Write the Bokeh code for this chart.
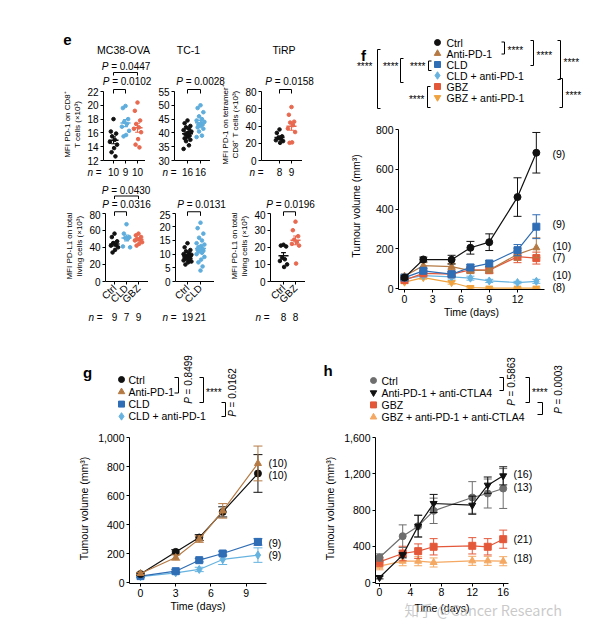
import math
import numpy as np
from bokeh.plotting import figure
from bokeh.layouts import row, column
from bokeh.models import Range1d, Spacer, FixedTicker, NumeralTickFormatter
from bokeh.embed import file_html
from bokeh.resources import INLINE
from bokeh.core.properties import value

FONT = "Liberation Sans"

# ---------------- data: panel e (MFI) ----------------
e_pd1_mc38_ctrl = [18.0, 16.2, 15.9, 15.5, 15.0, 14.7, 14.3, 13.8, 13.2, 12.6]
e_pd1_mc38_cld = [19.9, 19.6, 18.0, 17.6, 17.3, 16.9, 16.3, 15.7, 15.5]
e_pd1_mc38_gbz = [20.4, 19.2, 17.8, 17.3, 16.8, 16.6, 16.1, 15.1, 14.3, 13.9]
e_pd1_tc1_ctrl = [44.5, 43.5, 42.5, 42.0, 41.5, 41.0, 40.5, 40.0, 39.5, 39.0, 38.5, 38.0, 37.5, 37.0, 35.5, 34.2]
e_pd1_tc1_cld = [50.0, 49.0, 47.5, 46.0, 45.0, 44.5, 44.0, 43.5, 43.0, 43.0, 42.5, 42.0, 41.5, 40.5, 39.0, 38.5]
e_pd1_tirp_ctrl = [36.0, 32.0, 28.0, 26.0, 25.0, 23.5, 22.5, 20.5]
e_pd1_tirp_gbz = [62.0, 53.0, 45.0, 44.0, 41.0, 37.0, 33.0, 21.0, 20.5]
e_pdl1_mc38_ctrl = [56, 52, 47, 45, 43, 42, 40, 37, 34]
e_pdl1_mc38_cld = [67, 56, 52, 51, 50, 41, 40]
e_pdl1_mc38_gbz = [56, 54, 52, 50, 49, 48, 46, 44, 42]
e_pdl1_tc1_ctrl = [14.0, 12.5, 11.5, 11.0, 10.5, 10.0, 9.8, 9.5, 9.3, 9.0, 8.8, 8.6, 8.4, 8.2, 8.0, 7.7, 7.3, 7.0, 6.2]
e_pdl1_tc1_cld = [21.5, 19.5, 17.5, 16.0, 15.0, 14.0, 13.5, 13.0, 12.5, 12.0, 11.8, 11.5, 11.2, 11.0, 10.5, 10.0, 9.0, 8.0, 7.0, 5.5, 4.0]
e_pdl1_tirp_ctrl = [21.5, 21.0, 20.5, 14.0, 13.0, 12.0, 10.0, 8.5]
e_pdl1_tirp_gbz = [35.0, 30.0, 26.5, 24.5, 23.0, 22.0, 21.0, 10.5]
e_titles = ["MC38-OVA", "TC-1", "TiRP"]
e_p_top = ["0.0447", "0.0102", "0.0028", "0.0158"]
e_p_bot = ["0.0430", "0.0316", "0.0131", "0.0196"]

# ---------------- data: panel f ----------------
f_days = [0, 2, 5, 7, 9, 12, 14]
f_ctrl = [55, 146, 145, 205, 233, 460, 683]
f_ctrl_err = [8, 12, 22, 32, 42, 97, 102]
f_anti = [62, 115, 110, 90, 93, 172, 205]
f_anti_err = [10, 15, 15, 15, 15, 30, 50]
f_cld = [55, 89, 72, 106, 126, 193, 311]
f_cld_err = [8, 12, 12, 15, 15, 28, 60]
f_cldanti = [48, 65, 58, 52, 38, 30, 36]
f_cldanti_err = [8, 8, 10, 10, 8, 6, 10]
f_gbz = [42, 76, 72, 94, 92, 160, 153]
f_gbz_err = [8, 10, 10, 12, 15, 30, 30]
f_gbzanti = [32, 55, 30, 5, 2, 2, 2]
f_gbzanti_err = [6, 8, 8, 3, 1, 1, 1]
f_names = ["Ctrl", "Anti-PD-1", "CLD", "CLD + anti-PD-1", "GBZ", "GBZ + anti-PD-1"]
f_n_text = ["(9)", "(9)", "(10)", "(7)", "(10)", "(8)"]

# ---------------- data: panel g ----------------
g_days = [0, 3, 5, 7, 10]
g_ctrl = [58, 211, 310, 487, 752]
g_ctrl_err = [8, 15, 20, 35, 130]
g_anti = [62, 172, 299, 494, 821]
g_anti_err = [8, 18, 22, 50, 120]
g_cld = [44, 78, 154, 200, 280]
g_cld_err = [6, 10, 12, 15, 22]
g_cldanti = [40, 67, 90, 159, 189]
g_cldanti_err = [6, 8, 15, 35, 50]
g_names = ["Ctrl", "Anti-PD-1", "CLD", "CLD + anti-PD-1"]
g_n_text = ["(10)", "(10)", "(9)", "(9)"]

# ---------------- data: panel h ----------------
h_days = [0, 3, 5, 7, 12, 14, 16]
h_ctrl = [276, 511, 622, 791, 938, 982, 1037]
h_ctrl_err = [40, 125, 120, 140, 175, 160, 220]
h_apc = [55, 302, 622, 872, 853, 1074, 1177]
h_apc_err = [15, 30, 120, 100, 100, 90, 100]
h_gbz = [228, 320, 346, 394, 405, 394, 478]
h_gbz_err = [50, 80, 80, 90, 90, 90, 100]
h_gbzapc = [180, 235, 235, 221, 239, 239, 235]
h_gbzapc_err = [40, 50, 50, 50, 50, 50, 50]
h_names = ["Ctrl", "Anti-PD-1 + anti-CTLA4", "GBZ", "GBZ + anti-PD-1 + anti-CTLA4"]
h_n_text = ["(16)", "(13)", "(21)", "(18)"]
watermark = "\u77e5\u4e4e @Cancer Research"

BLACK = "#111111"
E_BLUE = "#5EADDC"
E_RED = "#E8694F"
C_ANTI = "#B57A44"
C_CLD = "#2F6DB5"
C_CLDA = "#66B3E0"
C_GBZ = "#E4583A"
C_GBZA = "#F0A23E"
C_GREY = "#6E6E6E"
C_GBZAPC = "#F4A862"

CW = {c: 0.556 for c in "0123456789"}
CW.update({'.': 0.278, ' ': 0.278, '=': 0.584, 'P': 0.667, '*': 0.389})


def tw(s, size):
    return sum(CW.get(c, 0.556) for c in s) * size


def canvas(x0, y0, x1, y1):
    p = figure(width=x1 - x0, height=y1 - y0, x_range=Range1d(x0, x1), y_range=Range1d(y1, y0),
               min_border_left=0, min_border_right=0, min_border_top=0, min_border_bottom=0,
               toolbar_location=None, output_backend="svg", x_axis_type=None, y_axis_type=None)
    p.outline_line_color = None
    return p


def txt(p, x, y, s, size=10.5, align="center", baseline="middle", style="normal", angle=0.0,
        color="black", font=FONT, alpha=1.0):
    p.text(x=[x], y=[y], text=[s], text_font=value(font), text_font_size=f"{size}px",
           text_align=align, text_baseline=baseline, text_font_style=style, angle=angle,
           text_color=color, text_alpha=alpha)


def ptext(p, xc, y, num, size=10):
    rest = "= " + num
    wP = 0.667 * size + 0.278 * size
    L = wP + tw(rest, size)
    x0 = xc - L / 2
    txt(p, x0, y, "P", size, align="left", style="italic")
    txt(p, x0 + wP, y, rest, size, align="left")


def ptext_v(p, x, yc, num, size=10):
    rest = "= " + num
    wP = 0.667 * size + 0.278 * size
    L = wP + tw(rest, size)
    yb = yc + L / 2
    txt(p, x, yb, "P", size, align="left", style="italic", angle=math.pi / 2)
    txt(p, x, yb - wP, rest, size, align="left", angle=math.pi / 2)


def ntext(p, xr, y, size=10):
    txt(p, xr, y, "=", size, align="right")
    txt(p, xr - 8.5, y, "n", size, align="right", style="italic")


def pline(p, pts, w=1.0):
    p.line([a for a, b in pts], [b for a, b in pts], line_color="black", line_width=w)


def br_right(p, x, y0, y1, arm=3):
    pline(p, [(x - arm, y0), (x, y0), (x, y1), (x - arm, y1)])


def br_left(p, x, y0, y1, arm=3):
    pline(p, [(x + arm, y0), (x, y0), (x, y1), (x + arm, y1)])


def br_top(p, x0, x1, y, leg=4):
    pline(p, [(x0, y + leg), (x0, y), (x1, y), (x1, y + leg)])


def stars(p, x, y, align="left"):
    txt(p, x, y + 2, "****", 10, align=align)


def make_plot(fig_box, frame_box, xmap, ymap):
    X0, Y0, X1, Y1 = fig_box
    fl, ft, fr, fb = frame_box
    v0, p0, v1, p1 = xmap
    sx = (v1 - v0) / (p1 - p0)
    w0, q0, w1, q1 = ymap
    sy = (w1 - w0) / (q1 - q0)
    xr = Range1d(v0 + (fl - p0) * sx, v0 + (fr - p0) * sx)
    yr = Range1d(w0 + (fb - q0) * sy, w0 + (ft - q0) * sy)
    p = figure(width=X1 - X0, height=Y1 - Y0, x_range=xr, y_range=yr,
               min_border_left=fl - X0, min_border_right=X1 - fr,
               min_border_top=ft - Y0, min_border_bottom=Y1 - fb,
               toolbar_location=None, output_backend="svg")
    p.grid.visible = False
    p.outline_line_color = None

    def fy(py):
        return w0 + (py - q0) * sy
    return p, fy, sx


def style(p, fs="10px", lfs="10.5px", ystand=3, xstand=0):
    for ax in p.axis:
        ax.axis_line_width = 1
        ax.axis_line_color = "black"
        ax.major_tick_in = 0
        ax.major_tick_out = 3
        ax.major_tick_line_color = "black"
        ax.minor_tick_line_color = None
        ax.major_label_standoff = 2
        ax.major_label_text_font = FONT
        ax.major_label_text_font_size = fs
        ax.major_label_text_color = "black"
        ax.axis_label_text_font = FONT
        ax.axis_label_text_font_size = lfs
        ax.axis_label_text_font_style = "normal"
        ax.axis_label_text_color = "black"
    p.yaxis.axis_label_standoff = ystand
    p.xaxis.axis_label_standoff = xstand


JIT = [0.0, -0.22, 0.22, -0.11, 0.11, -0.3, 0.3, 0.05, -0.16, 0.16]


def e_plot(fig_box, frame_box, cat_px, yticks, ypx, groups, colors, ylabel=None, xlabels=None, br_px=None):
    p, fy, sx = make_plot(fig_box, frame_box, (0, cat_px[0], 1, cat_px[1]),
                          (yticks[0], ypx[0], yticks[-1], ypx[1]))
    style(p, "10px", "8px", 2)
    p.yaxis.ticker = FixedTicker(ticks=yticks)
    p.yaxis.bounds = (yticks[0], yticks[-1])
    p.yaxis.axis_label = ylabel
    k = len(groups)
    if xlabels:
        p.xaxis.ticker = FixedTicker(ticks=list(range(k)))
        p.xaxis.major_label_overrides = {i: s for i, s in enumerate(xlabels)}
        p.xaxis.major_label_orientation = math.pi / 4
    else:
        p.xaxis.ticker = FixedTicker(ticks=[], minor_ticks=list(range(k)))
        p.xaxis.minor_tick_line_color = "black"
        p.xaxis.minor_tick_in = 0
        p.xaxis.minor_tick_out = 3
    for i, (vals, c) in enumerate(zip(groups, colors)):
        v = np.array(vals, float)
        order = np.argsort(-v)
        off = np.zeros(len(v))
        for r, idx in enumerate(order):
            off[idx] = JIT[r % len(JIT)]
        p.scatter(i + off, v, size=3.6, color=c, marker="circle")
        m = v.mean()
        se = v.std(ddof=1) / math.sqrt(len(v))
        p.segment(x0=[i - 0.42], y0=[m], x1=[i + 0.42], y1=[m], line_color=c, line_width=1.5)
        p.segment(x0=[i, i - 0.2, i - 0.2], y0=[m - se, m - se, m + se],
                  x1=[i, i + 0.2, i + 0.2], y1=[m + se, m - se, m + se], line_color=c, line_width=1.1)
    if br_px:
        yt, yb = fy(br_px[0]), fy(br_px[1])
        p.line([0, 0, 1, 1], [yb, yt, yt, yb], line_color="black", line_width=1)
    return p


def series(p, x, y, e, color, marker, size, capw, lw=1.2):
    x = np.array(x, float)
    y = np.array(y, float)
    e = np.array(e, float)
    p.segment(x0=x, y0=y - e, x1=x, y1=y + e, line_color=color, line_width=1)
    p.segment(x0=x - capw, y0=y + e, x1=x + capw, y1=y + e, line_color=color, line_width=1)
    p.segment(x0=x - capw, y0=y - e, x1=x + capw, y1=y - e, line_color=color, line_width=1)
    p.line(x, y, line_color=color, line_width=lw)
    p.scatter(x, y, marker=marker, size=size, fill_color=color, line_color=color)


# ======================= panel e =======================
e_head = canvas(8, 8, 330, 85)
txt(e_head, 67, 39, "e", 15, style="bold")
for xc, t in zip([123, 188, 283.5], e_titles):
    txt(e_head, xc, 49, t, 10.5)
ptext(e_head, 125.5, 65.5, e_p_top[0])
br_top(e_head, 113, 137, 72, leg=3)
ptext(e_head, 126.5, 80.5, e_p_top[1])
ptext(e_head, 200, 80.5, e_p_top[2])
ptext(e_head, 289, 80.5, e_p_top[3])

lab_top1 = "MFI PD-1 on CD8\u207a\nT cells (\u00d710\u00b3)"
lab_top3 = "MFI PD-1 on tetramer\u207a\nCD8\u207a T cells (\u00d710\u00b3)"
lab_bot = "MFI PD-L1 on total\nliving cells (\u00d710\u00b3)"

e1 = e_plot((8, 85, 145, 166), (103, 88, 145, 160), [113, 125], [12, 14, 16, 18, 20, 22], (160, 91),
            [e_pd1_mc38_ctrl, e_pd1_mc38_cld, e_pd1_mc38_gbz], [BLACK, E_BLUE, E_RED],
            ylabel=lab_top1, br_px=(89, 93))
e2 = e_plot((145, 85, 210, 166), (174, 88, 210, 160), [187, 200], [30, 35, 40, 45, 50, 55], (160, 91),
            [e_pd1_tc1_ctrl, e_pd1_tc1_cld], [BLACK, E_BLUE], br_px=(89, 93))
e3 = e_plot((210, 85, 302, 166), (261, 88, 302, 160), [279, 291], [0, 20, 40, 60, 80], (160, 91),
            [e_pd1_tirp_ctrl, e_pd1_tirp_gbz], [BLACK, E_RED], ylabel=lab_top3, br_px=(89, 93))

NY = 171.5
e_mid = canvas(8, 166, 330, 210)
ntext(e_mid, 101, NY)
for xc, g in zip([113, 125, 137], [e_pd1_mc38_ctrl, e_pd1_mc38_cld, e_pd1_mc38_gbz]):
    txt(e_mid, xc, NY, str(len(g)), 10)
ntext(e_mid, 176, NY)
for xc, g in zip([187, 200], [e_pd1_tc1_ctrl, e_pd1_tc1_cld]):
    txt(e_mid, xc, NY, str(len(g)), 10)
ntext(e_mid, 263, NY)
for xc, g in zip([279, 291], [e_pd1_tirp_ctrl, e_pd1_tirp_gbz]):
    txt(e_mid, xc, NY, str(len(g)), 10)
ptext(e_mid, 125.5, 189.5, e_p_bot[0])
br_top(e_mid, 114, 138, 195.5, leg=3)
ptext(e_mid, 126, 204.2, e_p_bot[1])
ptext(e_mid, 201, 204.2, e_p_bot[2])
ptext(e_mid, 290, 204.2, e_p_bot[3])

e4 = e_plot((8, 210, 148, 311), (105, 210, 148, 283), [114, 126], [0, 20, 40, 60, 80], (283, 212.7),
            [e_pdl1_mc38_ctrl, e_pdl1_mc38_cld, e_pdl1_mc38_gbz], [BLACK, E_BLUE, E_RED],
            ylabel=lab_bot, xlabels=["Ctrl", "CLD", "GBZ"], br_px=(211.3, 215.5))
e5 = e_plot((148, 210, 214, 311), (175, 210, 214, 283), [187, 200], [0, 5, 10, 15, 20, 25], (283, 212.7),
            [e_pdl1_tc1_ctrl, e_pdl1_tc1_cld], [BLACK, E_BLUE], xlabels=["Ctrl", "CLD"], br_px=(211.3, 215.5))
e6 = e_plot((214, 210, 305, 311), (270, 210, 305, 283), [283, 295], [0, 10, 20, 30, 40], (283, 212.7),
            [e_pdl1_tirp_ctrl, e_pdl1_tirp_gbz], [BLACK, E_RED], ylabel=lab_bot,
            xlabels=["Ctrl", "GBZ"], br_px=(211.3, 215.5))

e_nb = canvas(8, 311, 330, 326)
ntext(e_nb, 102, 316.5)
for xc, g in zip([114, 126, 138], [e_pdl1_mc38_ctrl, e_pdl1_mc38_cld, e_pdl1_mc38_gbz]):
    txt(e_nb, xc, 316.5, str(len(g)), 10)
ntext(e_nb, 176, 316.5)
for xc, g in zip([187, 200], [e_pdl1_tc1_ctrl, e_pdl1_tc1_cld]):
    txt(e_nb, xc, 316.5, str(len(g)), 10)
ntext(e_nb, 269, 316.5)
for xc, g in zip([283, 295], [e_pdl1_tirp_ctrl, e_pdl1_tirp_gbz]):
    txt(e_nb, xc, 316.5, str(len(g)), 10)

col_e = column(e_head, row(e1, e2, e3, Spacer(width=28, height=81)), e_mid,
               row(e4, e5, e6, Spacer(width=25, height=101)), e_nb)

# ======================= panel f =======================
f_head = canvas(330, 8, 608, 118)
txt(f_head, 363, 55, "f", 15, style="bold")
f_cols = [BLACK, C_ANTI, C_CLD, C_CLDA, C_GBZ, C_GBZA]
f_marks = ["circle", "triangle", "square", "diamond", "square", "inverted_triangle"]
f_msz = [6, 6.5, 6, 7.5, 6, 6.5]
for i, (nm, c, mk, sz) in enumerate(zip(f_names, f_cols, f_marks, f_msz)):
    yy = 42 + 11 * i
    f_head.scatter([437], [yy], marker=mk, size=sz, fill_color=c, line_color=c)
    txt(f_head, 446, yy, nm, 10.5, align="left")
br_right(f_head, 504, 41.5, 53.5)
stars(f_head, 507, 47.5)
br_right(f_head, 533, 40, 65)
stars(f_head, 536, 52.5)
br_right(f_head, 560, 40, 79)
stars(f_head, 563, 60)
br_right(f_head, 562, 78, 107)
stars(f_head, 565, 92.5)
br_left(f_head, 428, 60.5, 70)
stars(f_head, 425, 63.5, align="right")
br_left(f_head, 400, 58, 82)
stars(f_head, 398, 63.5, align="right")
br_left(f_head, 377, 49, 108)
stars(f_head, 372, 63.5, align="right")
br_left(f_head, 427, 86, 107)
stars(f_head, 424, 96.5, align="right")

f_plot, ffy, fsx = make_plot((330, 118, 545, 326), (398, 122, 544, 289), (0, 404, 12, 517), (0, 288, 800, 129))
style(f_plot, "10.5px", "10.5px", 11, 0)
f_plot.xaxis.ticker = FixedTicker(ticks=[0, 3, 6, 9, 12])
f_plot.yaxis.ticker = FixedTicker(ticks=[0, 200, 400, 600, 800])
f_plot.yaxis.bounds = (f_plot.y_range.start, 800)
f_plot.xaxis.axis_label = "Time (days)"
f_plot.yaxis.axis_label = "Tumour volume (mm\u00b3)"
fcap = 4 * fsx
series(f_plot, f_days, f_gbzanti, f_gbzanti_err, C_GBZA, "inverted_triangle", 7, fcap)
series(f_plot, f_days, f_cldanti, f_cldanti_err, C_CLDA, "diamond", 8, fcap)
series(f_plot, f_days, f_gbz, f_gbz_err, C_GBZ, "square", 7, fcap)
series(f_plot, f_days, f_anti, f_anti_err, C_ANTI, "triangle", 7, fcap)
series(f_plot, f_days, f_cld, f_cld_err, C_CLD, "square", 7, fcap)
series(f_plot, f_days, f_ctrl, f_ctrl_err, BLACK, "circle", 7, fcap)
f_rc = canvas(545, 118, 608, 326)
for t, py in zip(f_n_text, [153, 223, 245, 256, 274, 286]):
    txt(f_rc, 552, py, t, 10.5, align="left")

col_f = column(f_head, row(f_plot, column(f_rc)))

# ======================= panel g =======================
g_head = canvas(8, 326, 318, 430)
txt(g_head, 87, 371.5, "g", 15, style="bold")
g_cols = [BLACK, C_ANTI, C_CLD, C_CLDA]
g_marks = ["circle", "triangle", "square", "diamond"]
g_msz = [6, 6.5, 6, 7.5]
for i, (nm, c, mk, sz) in enumerate(zip(g_names, g_cols, g_marks, g_msz)):
    yy = 379 + 12.3 * i
    g_head.scatter([121], [yy], marker=mk, size=sz, fill_color=c, line_color=c)
    txt(g_head, 128, yy, nm, 10.5, align="left")
br_right(g_head, 178, 377, 392.5, arm=4)
ptext_v(g_head, 188, 379, "0.8499")
br_right(g_head, 203, 377, 402, arm=4)
stars(g_head, 205.5, 389.5)
br_right(g_head, 225, 402, 416, arm=4)
ptext_v(g_head, 232, 392, "0.0162")

g_plot, gfy, gsx = make_plot((8, 430, 267, 622), (129, 433, 266, 583), (0, 140, 9, 245.7), (0, 582, 1000, 437))
style(g_plot, "10.5px", "10.5px", 5, 0)
g_plot.xaxis.ticker = FixedTicker(ticks=[0, 3, 6, 9])
g_plot.yaxis.ticker = FixedTicker(ticks=[0, 200, 400, 600, 800, 1000])
g_plot.yaxis.formatter = NumeralTickFormatter(format="0,0")
g_plot.yaxis.bounds = (g_plot.y_range.start, 1000)
g_plot.xaxis.axis_label = "Time (days)"
g_plot.yaxis.axis_label = "Tumour volume (mm\u00b3)"
gcap = 4.5 * gsx
series(g_plot, g_days, g_cldanti, g_cldanti_err, C_CLDA, "diamond", 8, gcap)
series(g_plot, g_days, g_cld, g_cld_err, C_CLD, "square", 7, gcap)
series(g_plot, g_days, g_ctrl, g_ctrl_err, BLACK, "circle", 7, gcap)
series(g_plot, g_days, g_anti, g_anti_err, C_ANTI, "triangle", 7, gcap)
g_rc = canvas(267, 430, 318, 622)
for t, py in zip(g_n_text, [462, 474, 542, 554]):
    txt(g_rc, 268, py, t, 10.5, align="left")

col_g = column(g_head, row(g_plot, column(g_rc)))

# ======================= panel h =======================
h_head = canvas(318, 326, 608, 430)
txt(h_head, 327.5, 370, "h", 15, style="bold")
h_cols = [C_GREY, BLACK, C_GBZ, C_GBZAPC]
h_marks = ["circle", "inverted_triangle", "square", "triangle"]
h_msz = [6, 6.5, 6, 6.5]
for i, (nm, c, mk, sz) in enumerate(zip(h_names, h_cols, h_marks, h_msz)):
    yy = 380 + 12.2 * i
    h_head.scatter([373], [yy], marker=mk, size=sz, fill_color=c, line_color=c)
    txt(h_head, 381, yy, nm, 10.5, align="left")
br_right(h_head, 503, 377, 390, arm=4)
ptext_v(h_head, 511, 381, "0.5863")
br_right(h_head, 529, 377, 402, arm=4)
stars(h_head, 531.5, 389.5)
br_right(h_head, 542, 402, 414, arm=5)
ptext_v(h_head, 558, 389, "0.0003")

h_plot, hfy, hsx = make_plot((318, 430, 509, 600), (375, 433, 508, 583), (0, 379, 16, 502.7), (0, 582, 1600, 437))
style(h_plot, "10.5px", "10.5px", 5, 0)
h_plot.xaxis.major_label_standoff = 1
h_plot.xaxis.ticker = FixedTicker(ticks=[0, 4, 8, 12, 16])
h_plot.yaxis.ticker = FixedTicker(ticks=[0, 400, 800, 1200, 1600])
h_plot.yaxis.formatter = NumeralTickFormatter(format="0,0")
h_plot.yaxis.bounds = (h_plot.y_range.start, 1600)
h_plot.yaxis.axis_label = "Tumour volume (mm\u00b3)"
hcap = 4 * hsx
series(h_plot, h_days, h_gbzapc, h_gbzapc_err, C_GBZAPC, "triangle", 7, hcap)
series(h_plot, h_days, h_gbz, h_gbz_err, C_GBZ, "square", 7, hcap)
series(h_plot, h_days, h_ctrl, h_ctrl_err, C_GREY, "circle", 7, hcap)
series(h_plot, h_days, h_apc, h_apc_err, BLACK, "inverted_triangle", 7, hcap)
h_rc = canvas(509, 430, 608, 600)
for t, py in zip(h_n_text, [473, 486, 538, 557]):
    txt(h_rc, 513, py, t, 10.5, align="left")
h_foot = canvas(318, 600, 608, 622)
txt(h_foot, 441.5, 607, "Time (days)", 10.5)
txt(h_foot, 404, 609, watermark, 14.5, align="left", font="Noto Sans CJK SC", color="#b8b8b8", alpha=0.75)

col_h = column(h_head, row(h_plot, column(h_rc)), h_foot)

body = column(row(col_e, col_f), row(col_g, col_h))
layout = column(Spacer(width=600, height=8), row(Spacer(width=8, height=10), body))

open("out.html", "w").write(file_html(layout, INLINE))
